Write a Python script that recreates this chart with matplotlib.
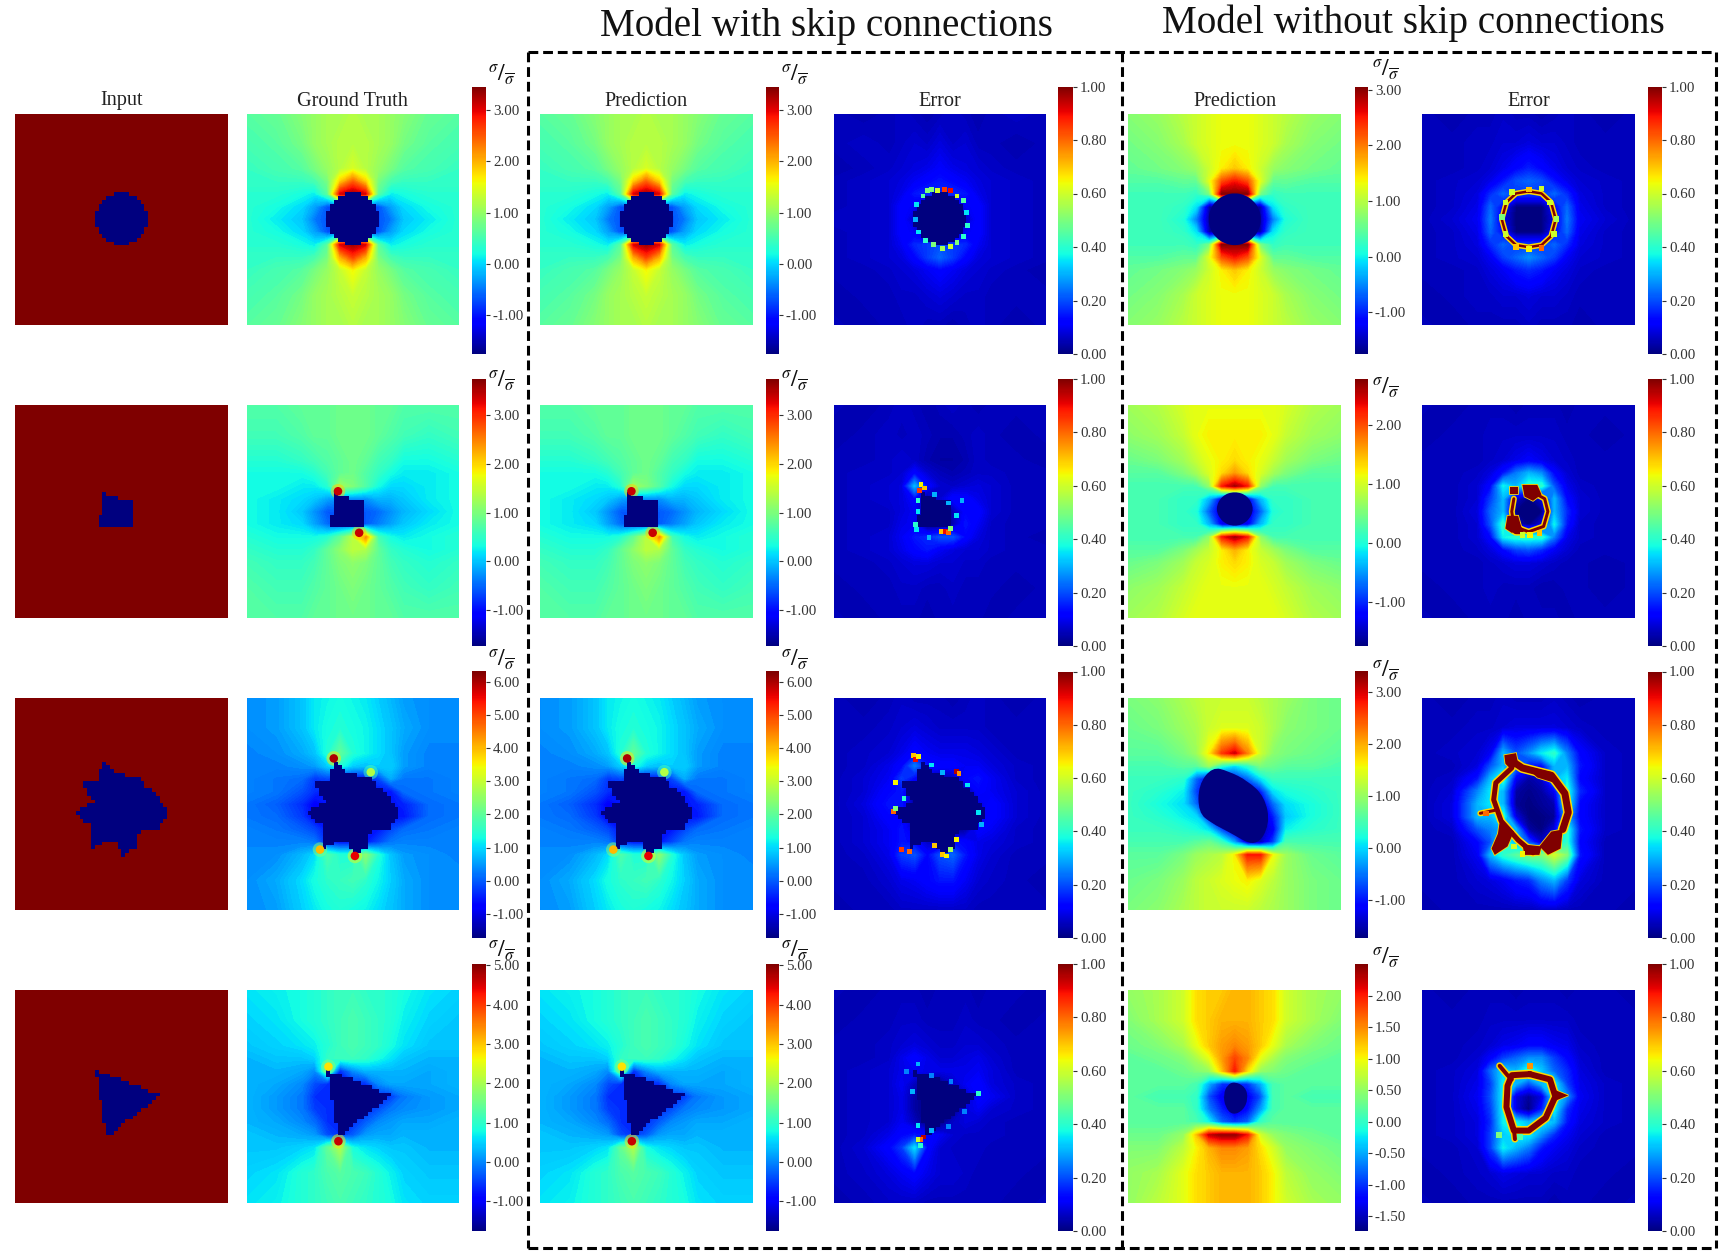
import numpy as np
import matplotlib
matplotlib.use("Agg")
import matplotlib.pyplot as plt
from matplotlib.cm import ScalarMappable
from matplotlib.colors import Normalize, ListedColormap
from matplotlib.lines import Line2D
from matplotlib.patches import PathPatch, Polygon
from matplotlib.path import Path

plt.rcParams["font.family"] = ["Liberation Serif", "DejaVu Serif"]
plt.rcParams["mathtext.fontset"] = "stix"

W, H = 1724, 1257

# Sampling positions of the field tables, as fractions of a panel side
GRID = [0, .14, .26, .32, .38, .44, .5, .56, .62, .68, .74, .86, 1]

# Hole outlines (x, y from the top-left corner of a panel)
HOLE_CIRCLE = [(.5,.375),(.548,.385),(.588,.412),(.615,.452),(.625,.5),(.615,.548),(.588,.588),(.548,.615),
               (.5,.625),(.452,.615),(.412,.588),(.385,.548),(.375,.5),(.385,.452),(.412,.412),(.452,.385)]
HOLE_QUAD = [(.418,.402),(.438,.425),(.559,.458),(.546,.575),(.392,.575),(.41,.473)]
HOLE_STAR = [(.41,.287),(.43,.31),(.48,.357),(.525,.37),(.59,.366),(.60,.405),(.66,.46),(.72,.54),(.67,.62),
             (.58,.635),(.57,.70),(.51,.745),(.465,.666),(.35,.715),(.355,.6),(.275,.54),(.38,.49),(.30,.405),(.395,.385)]
HOLE_TRIANGLE = [(.378,.375),(.685,.495),(.43,.69)]
HOLES = [HOLE_CIRCLE, HOLE_QUAD, HOLE_STAR, HOLE_TRIANGLE]

# Blurred holes returned by the model without skip connections
BLOB_1 = HOLE_CIRCLE
BLOB_2 = [(.5,.405),(.56,.425),(.592,.488),(.56,.55),(.5,.572),(.44,.55),(.408,.488),(.44,.425)]
BLOB_3 = [(.395,.325),(.47,.345),(.56,.39),(.64,.465),(.666,.595),(.60,.706),(.473,.632),(.39,.59),(.33,.54),(.33,.41)]
BLOB_4 = [(.5,.43),(.55,.455),(.563,.51),(.54,.565),(.49,.588),(.455,.55),(.447,.49),(.465,.445)]
BLOBS = [BLOB_1, BLOB_2, BLOB_3, BLOB_4]

# Stress ratio tables, in tenths
GT_1 = [[6,7,9,10,11,11,12,11,11,10,9,7,6],
        [5,6,8,10,11,12,12,12,11,10,8,6,5],
        [4,5,6,8,10,12,14,12,10,8,6,5,4],
        [4,4,4,5,8,18,24,18,8,5,4,4,4],
        [3,3,2,1,6,30,33,30,6,1,2,3,3],
        [3,2,0,-3,-7,-7,-7,-7,-7,-3,0,2,3],
        [3,1,-1,-5,-7,-7,-7,-7,-7,-5,-1,1,3],
        [3,2,0,-3,-7,-7,-7,-7,-7,-3,0,2,3],
        [3,3,2,1,6,30,33,30,6,1,2,3,3],
        [4,4,4,5,8,20,26,20,8,5,4,4,4],
        [4,5,6,8,10,13,16,13,10,8,6,5,4],
        [5,6,8,10,11,12,13,12,11,10,8,6,5],
        [6,7,9,10,11,11,12,11,11,10,9,7,6]]
GT_2 = [[7,7,8,8,8,9,9,9,8,8,7,7,7],
        [6,6,7,8,8,9,9,9,8,7,6,5,6],
        [4,4,5,6,7,8,9,8,6,5,3,3,4],
        [3,3,3,4,6,8,9,7,5,3,2,2,3],
        [3,3,2,2,4,12,10,7,3,1,1,2,3],
        [3,2,1,0,-2,-3,-3,-3,-1,-1,0,2,3],
        [3,2,0,-3,-6,-6,-6,-6,-5,-3,-1,1,3],
        [3,2,1,-2,-5,-6,-6,-6,-4,-2,0,2,3],
        [4,3,3,3,4,8,14,24,6,3,2,3,4],
        [5,4,4,5,8,11,14,13,8,5,4,3,4],
        [6,5,5,6,8,10,11,10,8,6,5,4,5],
        [7,6,6,7,8,9,10,9,8,7,6,5,6],
        [7,7,7,8,8,9,9,9,8,8,7,7,7]]
GT_3 = [[4,5,8,11,12,13,12,11,9,7,5,4,4],
        [4,5,8,11,13,14,13,12,10,8,6,4,4],
        [3,4,6,8,14,20,14,12,10,8,5,3,3],
        [3,3,4,5,9,14,9,8,9,9,5,3,3],
        [3,2,1,-3,-2,-6,-6,-6,-2,6,2,2,3],
        [3,2,-1,-4,-6,-6,-6,-6,-6,-6,1,2,3],
        [2,0,-4,-8,-6,-6,-6,-6,-6,-6,-5,1,2],
        [2,1,-3,-8,-6,-6,-6,-6,-6,-6,-6,1,2],
        [3,2,0,-2,-6,-6,-6,-6,-6,-2,1,2,3],
        [3,3,3,2,-4,-6,-6,-6,-2,2,3,3,3],
        [4,4,7,10,18,14,14,24,14,8,5,4,3],
        [4,6,10,13,15,16,17,15,12,9,6,4,4],
        [4,5,9,11,13,14,13,12,10,8,6,4,4]]
GT_4 = [[6,7,8,9,10,11,11,10,10,9,8,6,5],
        [5,6,8,9,10,11,12,11,10,9,7,5,4],
        [4,5,6,7,9,11,12,11,10,8,6,4,4],
        [3,4,4,5,10,11,11,10,8,6,4,3,3],
        [3,3,2,0,14,-6,0,3,3,3,3,2,3],
        [3,2,0,-4,-6,-6,-6,-6,0,2,2,2,3],
        [3,1,-1,-6,-6,-6,-6,-6,-6,-5,-1,1,2],
        [3,1,-1,-5,-6,-6,-6,-6,-4,-1,0,1,2],
        [3,2,0,-2,-6,-6,-6,-3,0,1,2,2,3],
        [4,3,2,1,-4,-6,-3,1,2,2,3,3,3],
        [4,4,5,6,14,20,8,6,5,4,4,3,3],
        [5,6,9,10,12,13,12,11,9,7,5,4,4],
        [6,7,9,10,11,12,11,10,9,8,6,5,5]]
NS_1 = [[7,8,10,11,12,13,13,13,12,11,10,8,7],
        [6,7,9,11,12,13,13,13,12,11,9,7,6],
        [5,6,7,8,11,14,16,14,11,8,7,6,5],
        [4,4,5,5,12,22,25,22,12,5,5,4,4],
        [3,3,3,2,6,30,30,30,6,2,3,3,3],
        [3,3,2,-1,-16,-16,-16,-16,-16,-1,2,3,3],
        [3,3,1,-6,-16,-16,-16,-16,-16,-6,1,3,3],
        [3,3,2,-1,-16,-16,-16,-16,-16,-1,2,3,3],
        [3,3,3,2,6,30,30,30,6,2,3,3,3],
        [4,4,5,5,12,22,25,22,12,5,5,4,4],
        [5,6,7,8,11,14,16,14,11,8,7,6,5],
        [6,7,9,11,12,13,13,13,12,11,9,7,6],
        [7,8,10,11,12,13,13,13,12,11,10,8,7]]
NS_2 = [[7,8,10,11,11,11,11,11,11,11,10,8,7],
        [6,7,9,11,12,12,12,12,12,11,9,7,6],
        [4,5,7,9,11,12,13,12,11,9,7,5,4],
        [3,3,5,7,10,13,16,13,10,7,5,3,3],
        [2,2,2,2,6,22,26,22,6,2,2,2,2],
        [2,2,1,1,-4,-13,-13,-13,-4,1,1,2,2],
        [2,2,1,0,-8,-14,-14,-14,-8,0,1,2,2],
        [2,2,1,1,-4,-13,-13,-13,-4,1,1,2,2],
        [2,2,2,2,6,22,26,22,6,2,2,2,2],
        [3,3,5,7,9,12,15,12,9,7,5,3,3],
        [4,5,7,9,10,12,13,12,10,9,7,5,4],
        [6,7,9,10,11,11,11,11,11,10,9,7,6],
        [7,8,10,11,11,11,11,11,11,11,10,8,7]]
NS_3 = [[8,9,11,12,13,13,13,13,12,11,10,8,7],
        [7,8,10,11,13,14,14,14,13,11,9,8,7],
        [6,6,8,10,16,26,30,22,13,9,8,7,6],
        [5,5,6,6,10,3,0,3,8,7,6,6,5],
        [4,4,3,-6,-12,-14,-10,-6,0,4,4,4,4],
        [4,3,1,-8,-14,-15,-15,-13,-10,0,2,3,4],
        [4,2,0,-6,-14,-16,-16,-16,-14,-6,0,2,4],
        [4,3,1,0,-10,-15,-15,-16,-15,-10,-1,2,4],
        [4,4,3,2,0,-8,-14,-15,-15,-12,1,3,4],
        [5,5,5,6,7,4,-3,-14,-15,-8,5,5,5],
        [6,6,8,10,11,12,16,28,28,15,10,7,6],
        [7,8,10,12,13,14,15,16,14,12,10,8,7],
        [8,9,11,12,13,13,13,13,12,11,10,8,7]]
NS_4 = [[5,6,8,11,12,12,13,13,12,11,8,6,5],
        [4,6,8,11,12,13,13,13,12,11,8,6,4],
        [3,4,6,9,12,14,15,14,12,9,6,4,3],
        [2,3,4,6,9,14,18,15,9,6,4,3,2],
        [2,2,3,4,5,12,20,11,5,4,3,2,2],
        [2,2,2,1,-5,-10,-11,-10,-5,1,2,2,2],
        [2,1,1,0,-9,-13,-15,-13,-9,1,2,1,1],
        [2,2,2,0,-7,-11,-14,-12,-6,1,2,2,2],
        [2,2,2,1,-2,-8,-10,-8,0,2,2,2,2],
        [3,3,5,12,22,24,24,20,8,5,4,3,2],
        [4,4,7,10,13,15,15,14,11,8,5,4,3],
        [5,6,9,11,12,13,13,13,12,10,7,5,4],
        [5,7,9,11,12,13,13,13,12,10,8,6,5]]
GT_FIELDS = [GT_1, GT_2, GT_3, GT_4]
NS_FIELDS = [NS_1, NS_2, NS_3, NS_4]

# Stress concentrations at sharp corners: x, y, stress ratio
GT_PEAKS = [[],
            [(.43,.405,3.4),(.53,.6,3.4)],
            [(.41,.285,6.0),(.585,.35,2.8),(.345,.715,4.0),(.51,.745,5.6)],
            [(.385,.36,2.8),(.432,.71,4.6)]]

# Colour bar ranges and ticks
GT_RANGE = [(-1.76,3.46),(-1.75,3.75),(-1.74,6.33),(-1.75,5.03)]
NS_RANGE = [(-1.75,3.06),(-1.74,2.77),(-1.74,3.39),(-1.73,2.5)]
GT_TICKS = [[-1,0,1,2,3],[-1,0,1,2,3],[-1,0,1,2,3,4,5,6],[-1,0,1,2,3,4,5]]
NS_TICKS = [[-1,0,1,2,3],[-1,0,1,2],[-1,0,1,2,3],[-1.5,-1,-.5,0,.5,1,1.5,2]]
ERR_TICKS = [0,.2,.4,.6,.8,1]

# Absolute error tables, in percent
ES_1 = [[5,4,5,6,5,4,5,6,5,4,5,6,5],
        [5,6,5,6,7,6,8,6,7,5,5,4,5],
        [4,5,6,7,8,9,11,9,8,7,6,5,5],
        [5,6,7,8,10,12,14,12,10,8,7,6,5],
        [5,6,7,9,14,16,16,16,14,9,7,6,5],
        [5,6,7,12,10,0,0,0,10,12,7,6,5],
        [6,6,7,12,6,0,0,0,6,12,7,6,5],
        [5,6,7,12,10,0,0,0,10,12,7,6,5],
        [5,6,7,10,16,18,20,18,16,10,7,6,5],
        [5,6,7,8,12,18,22,18,12,8,7,6,5],
        [5,5,6,7,8,10,12,10,8,7,6,5,4],
        [4,5,5,6,6,7,8,7,6,6,5,5,5],
        [5,4,5,5,6,5,5,4,5,6,5,4,5]]
ES_2 = [[5,4,5,6,5,4,5,6,5,4,5,5,5],
        [4,5,6,5,6,5,4,4,5,6,5,4,5],
        [5,5,6,7,6,4,3,3,4,6,5,5,4],
        [5,6,6,7,12,7,5,4,5,6,6,5,5],
        [5,6,7,8,30,12,7,6,7,8,7,5,5],
        [5,6,7,8,12,2,7,12,12,9,7,5,5],
        [5,6,6,8,10,2,0,4,12,12,7,5,5],
        [5,6,6,9,10,0,0,4,14,10,6,5,5],
        [5,6,7,10,14,16,20,20,12,8,6,5,4],
        [5,6,7,9,12,14,10,8,7,7,6,5,5],
        [5,5,6,7,8,8,7,7,6,6,5,5,5],
        [4,5,5,6,6,5,5,6,5,5,5,4,5],
        [5,4,5,5,5,4,5,5,5,5,4,5,5]]
ES_3 = [[5,4,5,6,5,5,5,4,5,6,5,4,5],
        [5,5,6,7,8,7,6,6,6,6,5,5,5],
        [5,6,7,9,12,10,9,9,9,8,7,5,5],
        [5,6,9,12,24,14,12,12,10,10,8,6,5],
        [5,7,10,18,12,5,3,5,12,14,10,6,5],
        [5,7,12,14,3,0,0,0,3,12,10,7,5],
        [5,8,14,14,2,0,0,0,0,8,12,7,5],
        [5,7,12,12,2,0,0,0,0,10,12,7,5],
        [5,7,10,14,5,0,0,0,3,12,10,6,5],
        [5,7,10,14,12,6,5,14,12,9,8,6,5],
        [5,6,9,18,20,12,20,22,14,9,7,5,5],
        [5,5,7,9,10,12,14,14,10,7,6,5,4],
        [4,5,5,6,6,6,6,6,6,5,5,5,5]]
ES_4 = [[5,4,5,5,5,4,5,5,5,4,5,5,4],
        [4,5,5,6,6,5,5,5,6,5,5,4,5],
        [5,5,6,7,8,7,6,6,7,7,6,5,5],
        [5,5,6,9,12,9,7,7,8,9,7,5,5],
        [5,6,7,9,10,9,9,9,9,10,8,5,5],
        [5,6,7,10,5,2,0,6,10,12,8,6,5],
        [5,6,7,9,3,0,0,0,5,12,10,6,5],
        [5,6,7,9,3,0,0,0,8,10,7,6,5],
        [5,6,7,10,5,0,0,6,8,7,6,5,5],
        [5,6,9,12,14,12,10,7,6,6,6,5,5],
        [5,7,12,18,34,12,7,6,6,6,5,5,5],
        [5,6,8,10,12,9,7,7,6,5,5,5,4],
        [4,5,6,6,6,5,5,5,5,5,5,4,5]]
EN_1 = [[5,4,5,5,6,5,5,4,5,6,5,4,5],
        [5,5,6,6,7,7,8,7,7,6,5,5,5],
        [5,5,6,7,9,12,15,12,9,7,6,5,5],
        [5,6,7,9,14,20,22,20,14,9,7,6,5],
        [5,6,8,16,22,18,18,18,22,16,8,6,5],
        [5,6,9,22,12,0,0,0,12,22,9,6,5],
        [5,7,10,24,8,0,0,0,8,24,10,7,5],
        [5,6,9,22,12,0,0,0,12,22,9,6,5],
        [5,6,8,16,22,18,18,18,22,16,8,6,5],
        [5,6,7,10,18,22,26,22,18,10,7,6,5],
        [5,5,6,8,10,14,16,14,10,8,6,5,5],
        [4,5,6,6,7,7,8,7,7,6,5,5,5],
        [5,4,5,5,5,5,6,5,5,5,4,5,5]]
EN_2 = [[5,4,5,5,5,4,5,5,5,4,5,5,5],
        [4,5,5,6,6,6,6,6,6,5,5,4,5],
        [5,5,5,6,7,9,11,9,7,6,5,5,5],
        [5,5,6,8,14,24,30,26,12,7,5,5,5],
        [5,5,7,12,36,30,40,40,20,9,6,5,5],
        [5,5,7,18,30,6,0,8,30,12,7,5,5],
        [5,5,8,22,30,0,0,0,30,16,7,5,5],
        [5,5,7,20,40,6,0,8,36,14,6,5,5],
        [5,5,7,12,36,40,40,40,24,9,6,5,5],
        [5,5,6,8,12,18,20,16,10,7,5,5,5],
        [5,5,5,6,7,8,8,7,6,5,5,4,5],
        [4,5,5,6,5,5,5,4,4,5,5,4,5],
        [5,4,5,5,5,4,5,5,5,4,5,5,5]]
EN_3 = [[5,4,5,5,6,5,5,5,6,5,4,5,5],
        [5,5,6,6,7,8,8,8,8,7,6,5,5],
        [5,6,7,10,30,20,26,35,40,25,12,6,5],
        [5,5,8,20,30,24,14,12,30,30,14,6,5],
        [5,6,14,30,40,10,3,6,30,35,12,6,5],
        [5,7,25,35,30,3,1,3,10,40,16,6,5],
        [5,8,30,35,30,2,0,2,4,40,12,6,5],
        [5,8,30,30,40,8,0,0,2,30,12,6,5],
        [5,6,20,25,30,30,3,0,8,40,14,6,5],
        [5,5,12,20,40,30,20,6,30,40,12,5,5],
        [5,5,10,30,40,45,50,50,60,50,14,5,5],
        [5,5,7,8,10,14,16,25,30,18,8,5,5],
        [4,5,5,5,5,5,5,6,6,5,5,5,4]]
EN_4 = [[5,4,5,5,5,4,5,5,5,4,5,5,4],
        [5,5,5,6,6,6,6,6,6,6,5,5,5],
        [5,5,6,7,9,10,12,12,10,9,6,5,5],
        [5,5,7,11,18,22,26,26,18,12,7,5,5],
        [5,6,8,22,34,30,40,32,22,16,8,5,5],
        [5,6,9,18,36,30,20,30,36,18,9,6,5],
        [5,6,10,20,36,8,2,8,36,26,10,6,5],
        [5,6,9,18,36,8,0,14,36,16,9,6,5],
        [5,6,8,16,36,36,30,36,30,14,8,6,5],
        [5,6,8,18,32,36,36,26,16,10,7,5,5],
        [5,5,7,18,36,30,24,14,10,8,6,5,5],
        [4,5,6,7,9,8,7,7,6,6,5,5,4],
        [5,4,5,5,5,5,5,5,4,5,5,4,5]]
ES_FIELDS = [ES_1, ES_2, ES_3, ES_4]
EN_FIELDS = [EN_1, EN_2, EN_3, EN_4]

# Individual error spots: x, y, error
ES_DOTS = [[(.46,.36,.5),(.49,.365,.6),(.52,.36,.85),(.55,.365,.9),(.58,.39,.6),(.61,.41,.45),(.625,.47,.35),
            (.63,.53,.4),(.61,.58,.4),(.58,.61,.5),(.55,.63,.6),(.51,.64,.55),(.47,.62,.5),(.43,.6,.4),
            (.4,.56,.35),(.385,.5,.3),(.39,.43,.35),(.42,.39,.45),(.44,.365,.5)],
           [(.41,.375,.65),(.425,.39,.7),(.405,.40,.85),(.396,.45,.4),(.396,.5,.35),(.385,.56,.4),(.39,.585,.35),
            (.448,.623,.3),(.505,.594,.7),(.526,.594,.9),(.54,.6,.8),(.55,.58,.5),(.578,.517,.35),(.604,.45,.3),
            (.54,.46,.3),(.474,.42,.3)],
           [(.375,.27,.7),(.383,.29,.9),(.40,.275,.65),(.578,.348,.95),(.59,.355,.75),(.292,.40,.65),(.279,.536,.8),
            (.29,.52,.5),(.33,.474,.4),(.318,.716,.85),(.357,.725,.8),(.474,.697,.7),(.513,.74,.7),(.53,.745,.65),
            (.55,.716,.55),(.578,.669,.65),(.682,.539,.35),(.63,.41,.35),(.46,.316,.35),(.513,.35,.3),(.695,.595,.3)],
           [(.422,.69,.95),(.41,.70,.8),(.396,.70,.6),(.409,.73,.4),(.682,.486,.4),(.396,.347,.3),(.343,.384,.25),
            (.37,.477,.3),(.46,.40,.25),(.552,.43,.25),(.617,.57,.25),(.54,.64,.25),(.46,.66,.3),(.396,.635,.35)]]
EN_DOTS = [[(.42,.37,.6),(.5,.36,.7),(.56,.355,.6),(.60,.42,.6),(.63,.5,.55),(.62,.57,.6),(.56,.635,.8),
            (.5,.64,.65),(.44,.63,.7),(.39,.57,.6),(.375,.49,.5),(.39,.42,.6)],
           [(.505,.61,.65),(.47,.61,.6),(.55,.60,.7)],
           [(.30,.544,.8),(.43,.70,.6),(.47,.735,.65)],
           [(.505,.356,.75),(.36,.68,.5),(.46,.69,.45)]]

# Bands of saturated error around the hole: width in pixels, then x, y
EN_BANDS = [[(2.5,[(.5,.368),(.56,.378),(.605,.42),(.627,.5),(.605,.58),(.56,.622),(.5,.632),(.44,.622),
                   (.395,.58),(.373,.5),(.395,.42),(.44,.378),(.5,.368)])],
            [(3,[(.43,.44),(.42,.5),(.43,.57),(.5,.595),(.57,.57),(.59,.5),(.575,.44),(.52,.41)]),
             (7,[(.43,.57),(.44,.59),(.46,.59)])],
            [(7,[(.41,.29),(.47,.33),(.607,.365),(.67,.45),(.686,.54),(.66,.62)]),
             (5,[(.42,.33),(.345,.40),(.335,.48),(.37,.58),(.45,.67),(.52,.73)]),
             (3,[(.272,.544),(.34,.53)])],
            [(6,[(.505,.395),(.60,.42),(.625,.50),(.58,.60),(.50,.66),(.43,.66),(.395,.55),(.40,.45),(.42,.40),(.505,.395)]),
             (4,[(.363,.356),(.40,.40),(.42,.42)]),
             (4,[(.43,.65),(.435,.70)])]]
EN_FILLS = [[],
            [[(.47,.375),(.54,.375),(.56,.42),(.52,.45),(.48,.43)],
             [(.41,.385),(.45,.385),(.45,.42),(.41,.42)],
             [(.40,.52),(.45,.52),(.47,.59),(.42,.60),(.39,.58)]],
            [[(.385,.27),(.44,.26),(.45,.31),(.42,.34),(.39,.31)],
             [(.48,.32),(.61,.35),(.665,.44),(.62,.40),(.54,.375)],
             [(.365,.57),(.43,.63),(.40,.70),(.34,.74),(.325,.71),(.355,.64)],
             [(.606,.63),(.66,.62),(.65,.71),(.59,.74),(.55,.70)],
             [(.47,.69),(.56,.70),(.55,.74),(.48,.74)]],
            [[(.625,.47),(.686,.495),(.625,.52)]]]

cmap = plt.get_cmap("jet")

fig = plt.figure(figsize=(W / 100, H / 100), dpi=100)
fig.patch.set_facecolor("white")


def axes_px(x0, y0, x1, y1):
    return fig.add_axes([x0 / W, 1 - y1 / H, (x1 - x0) / W, (y1 - y0) / H])


def hole_layer(ax, outline):
    # The hole is stepped along the cells of the simulation mesh
    n = 56
    c = (np.arange(n) + .5) / n
    xx, yy = np.meshgrid(c, c)
    inside = Path(outline).contains_points(np.c_[xx.ravel(), yy.ravel()]).reshape(n, n)
    ax.imshow(np.ma.masked_where(~inside, inside.astype(float)), cmap=ListedColormap([cmap(0.0)]),
              extent=(0, 1, 1, 0), aspect="auto", interpolation="nearest", zorder=3)


def smooth_blob(ax, outline):
    # Closed quadratic curve through the midpoints of the outline
    pts = np.array(outline)
    mids = (pts + np.roll(pts, -1, axis=0)) / 2
    verts, codes = [mids[-1]], [Path.MOVETO]
    for p, m in zip(pts, mids):
        verts += [p, m]
        codes += [Path.CURVE3, Path.CURVE3]
    ax.add_patch(PathPatch(Path(verts, codes), fc=cmap(0.0), ec="none", zorder=3))


def field_panel(box, table, scale, vmin, vmax):
    ax = axes_px(*box)
    z = np.array(table, float) / scale
    ax.contourf(GRID, GRID, z, levels=np.linspace(vmin, vmax, 129), cmap=cmap,
                norm=Normalize(vmin, vmax), extend="both", zorder=1)
    ax.set_xlim(0, 1)
    ax.set_ylim(1, 0)
    ax.axis("off")
    return ax


def colour_bar(box, vmin, vmax, ticks):
    cax = axes_px(*box)
    cb = fig.colorbar(ScalarMappable(Normalize(vmin, vmax), cmap), cax=cax, ticks=ticks, format="%.2f")
    cb.outline.set_visible(False)
    cax.tick_params(length=3, width=.8, pad=2, labelsize=10.8, color="#333333", labelcolor="#333333")


def sigma_label(x, y):
    fig.text(x / W, 1 - y / H, r"$^{\sigma}/_{\overline{\sigma}}$", fontsize=17,
             ha="center", va="center", color="#111111")


def error_marks(ax, dots, bands, fills, dot_size):
    for outline in fills:
        ax.add_patch(Polygon(outline, closed=True, fc=cmap(1.0), ec=cmap(.68), lw=1.2, zorder=4))
    for width, pts in bands:
        xs, ys = zip(*pts)
        ax.plot(xs, ys, color=cmap(.68), lw=(width + 3) * .72, solid_capstyle="round", zorder=4)
    for outline in fills:
        ax.add_patch(Polygon(outline, closed=True, fc=cmap(1.0), ec="none", zorder=5))
    for width, pts in bands:
        xs, ys = zip(*pts)
        ax.plot(xs, ys, color=cmap(1.0), lw=width * .72, solid_capstyle="round", zorder=5)
    if dots:
        x, y, v = zip(*dots)
        ax.scatter(x, y, c=v, cmap=cmap, vmin=0, vmax=1, s=dot_size, marker="s", linewidths=0, zorder=6)


COLS = {"input": (15, 228), "gt": (247, 458.6), "gt_cb": (472, 486), "pred": (540, 752.6), "pred_cb": (766, 779),
        "err": (834, 1046), "err_cb": (1058, 1073), "pred2": (1128, 1341.5), "pred2_cb": (1355, 1368),
        "err2": (1422.5, 1635), "err2_cb": (1648, 1662)}
PANEL_Y = [(113.5, 325), (405, 618), (698, 910), (990, 1203)]
BAR_Y = [(86.5, 354), (379, 646), (671.5, 938), (964, 1231)]
SIGMA_Y = [(75, 70), (381, 388), (660, 671), (951, 958)]

for r in range(4):
    y0, y1 = PANEL_Y[r]
    by0, by1 = BAR_Y[r]
    vmin, vmax = GT_RANGE[r]
    nmin, nmax = NS_RANGE[r]

    ax = axes_px(COLS["input"][0], y0, COLS["input"][1], y1)
    ax.imshow(np.ones((2, 2)), cmap=cmap, vmin=0, vmax=1, extent=(0, 1, 1, 0), aspect="auto")
    hole_layer(ax, HOLES[r])
    ax.axis("off")

    for key in ("gt", "pred"):
        ax = field_panel((COLS[key][0], y0, COLS[key][1], y1), GT_FIELDS[r], 10, vmin, vmax)
        hole_layer(ax, HOLES[r])
        if GT_PEAKS[r]:
            px, py, pv = zip(*GT_PEAKS[r])
            ax.scatter(px, py, c=np.array(pv) * .6, cmap=cmap, vmin=vmin, vmax=vmax, s=110,
                       alpha=.5, linewidths=0, zorder=2)
            ax.scatter(px, py, c=pv, cmap=cmap, vmin=vmin, vmax=vmax, s=38, linewidths=0, zorder=4)
        colour_bar((COLS[key + "_cb"][0], by0, COLS[key + "_cb"][1], by1), vmin, vmax, GT_TICKS[r])

    ax = field_panel((COLS["err"][0], y0, COLS["err"][1], y1), ES_FIELDS[r], 100, 0, 1)
    hole_layer(ax, HOLES[r])
    error_marks(ax, ES_DOTS[r], [], [], 12)
    colour_bar((COLS["err_cb"][0], by0, COLS["err_cb"][1], by1), 0, 1, ERR_TICKS)

    ax = field_panel((COLS["pred2"][0], y0, COLS["pred2"][1], y1), NS_FIELDS[r], 10, nmin, nmax)
    smooth_blob(ax, BLOBS[r])
    colour_bar((COLS["pred2_cb"][0], by0, COLS["pred2_cb"][1], by1), nmin, nmax, NS_TICKS[r])

    ax = field_panel((COLS["err2"][0], y0, COLS["err2"][1], y1), EN_FIELDS[r], 100, 0, 1)
    error_marks(ax, EN_DOTS[r], EN_BANDS[r], EN_FILLS[r], 16)
    colour_bar((COLS["err2_cb"][0], by0, COLS["err2_cb"][1], by1), 0, 1, ERR_TICKS)

    sigma_label(502, SIGMA_Y[r][0])
    sigma_label(795, SIGMA_Y[r][0])
    sigma_label(1386, SIGMA_Y[r][1])

# Column headings over the first row
for key, label in (("input", "Input"), ("gt", "Ground Truth"), ("pred", "Prediction"),
                   ("err", "Error"), ("pred2", "Prediction"), ("err2", "Error")):
    fig.text(sum(COLS[key]) / 2 / W, 1 - 101 / H, label, fontsize=14.6, ha="center", va="center", color="#222222")

fig.text(826 / W, 1 - 26 / H, "Model with skip connections", fontsize=28.2, ha="center", va="center", color="#111111")
fig.text(1413 / W, 1 - 23 / H, "Model without skip connections", fontsize=28.2, ha="center", va="center", color="#111111")

# Dashed frames around the two model groups
frame_x = [528, 1122, 1716]
frame_top, frame_bottom = 52, 1248
dash = dict(color="black", lw=2.2, ls=(0, (3.2, 1.6)), transform=fig.transFigure)
fig.add_artist(Line2D([frame_x[0] / W, frame_x[2] / W], [1 - frame_top / H] * 2, **dash))
fig.add_artist(Line2D([frame_x[0] / W, frame_x[2] / W], [1 - frame_bottom / H] * 2, **dash))
for fx in frame_x:
    fig.add_artist(Line2D([fx / W] * 2, [1 - frame_top / H, 1 - frame_bottom / H], **dash))

fig.savefig("out.png", dpi=100)
